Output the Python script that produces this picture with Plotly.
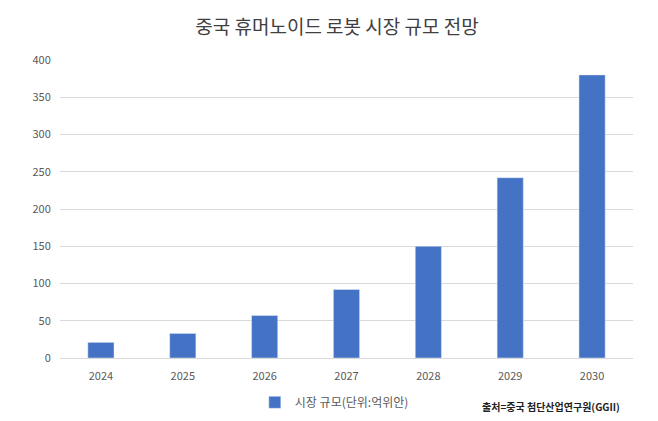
import plotly.graph_objects as go

years = ["2024", "2025", "2026", "2027", "2028", "2029", "2030"]
values = [21, 33, 57, 92, 150, 242, 380]
y_ticks = [0, 50, 100, 150, 200, 250, 300, 350, 400]

fig = go.Figure()
fig.add_trace(
    go.Bar(
        x=years,
        y=values,
        name="시장 규모(단위:억위안)",
        marker=dict(color="#4472C4"),
        width=0.32,
    )
)

fig.update_layout(
    width=658,
    height=421,
    paper_bgcolor="white",
    plot_bgcolor="white",
    font=dict(family="Noto Sans CJK KR", color="#595959", size=11),
    title=dict(
        text="중국 휴머노이드 로봇 시장 규모 전망",
        x=0.5,
        xanchor="center",
        y=0.955,
        yanchor="middle",
        font=dict(size=19, color="#404040"),
    ),
    margin=dict(l=52, r=33, t=52, b=66),
    showlegend=True,
    legend=dict(
        orientation="h",
        x=0.34,
        y=-0.1,
        xanchor="left",
        yanchor="top",
        itemwidth=30,
        font=dict(size=12, color="#595959"),
    ),
    annotations=[
        dict(
            text="<b>출처=중국 첨단산업연구원(GGII)</b>",
            xref="paper",
            yref="paper",
            x=0.98,
            y=-0.13,
            xanchor="right",
            yanchor="top",
            showarrow=False,
            font=dict(size=10, color="#222222"),
        )
    ],
)

fig.update_xaxes(
    showline=True,
    linecolor="#d9d9d9",
    ticks="outside",
    tickcolor="rgba(0,0,0,0)",
    ticklen=8,
    tickfont=dict(size=11),
)
fig.update_yaxes(
    range=[0, 400],
    tickvals=y_ticks,
    gridcolor="#d9d9d9",
    zeroline=False,
    ticks="outside",
    tickcolor="rgba(0,0,0,0)",
    ticklen=6,
    tickfont=dict(size=11),
)

fig.write_html("out.html")
